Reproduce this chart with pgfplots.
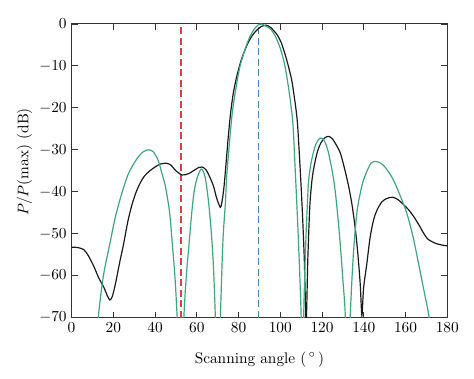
\documentclass[border=0pt]{standalone}
\usepackage{pgfplots}
\pgfplotsset{compat=1.18}
\definecolor{curvegreen}{RGB}{58,168,122}
\definecolor{curveblack}{RGB}{25,25,25}
\definecolor{myblue}{RGB}{70,135,185}
\begin{document}
\begin{tikzpicture}
\useasboundingbox (-51.1pt,-43.8pt) rectangle (287.5pt,226.9pt);
\begin{axis}[
  at={(0,0)}, anchor=south west,
  width=268.4pt, height=209.8pt, scale only axis,
  font=\fontsize{10.95}{13}\selectfont,
  xmin=0, xmax=180, ymin=-70, ymax=0,
  xtick={0,20,...,180}, ytick={-70,-60,...,0},
  axis line style={line width=0.7pt, black!80},
  every tick/.style={line width=0.6pt, black!80},
  major tick length=4.3pt,
  tick align=inside,
  xlabel={Scanning angle ($\,^{\circ}\,$)},
  ylabel={$P/P(\mathrm{max})$ (dB)},
  xlabel style={at={(axis description cs:0.5,0)}, anchor=north, yshift=-21pt},
  ylabel style={at={(axis description cs:-0.125,0.53)}, anchor=center},
  clip=true,
]
% steering markers
\addplot[draw={rgb,255:red,222;green,62;blue,72}, line width=0.9pt, dash pattern=on 5pt off 2.5pt] coordinates {(52.5,-70) (52.5,0)};
\addplot[draw=myblue, line width=0.9pt, dash pattern=on 5pt off 2.5pt] coordinates {(89.5,-70) (89.5,0)};
% black measured pattern
\addplot[color=curveblack, line width=0.85pt, smooth, tension=0.45] coordinates {
(0,-53.2) (3,-53.3) (5.9,-53.8) (8,-55.2) (10.7,-57.8) (13,-60.5) (15.5,-62.8)
(17,-64.6) (18.3,-65.8) (19.5,-65.0) (21.1,-61.8) (23,-57) (25,-52.3) (27,-47.0)
(29,-43.0) (31,-40.0) (33,-37.8) (35,-36.2) (37.5,-35.0) (40,-34.1) (42.5,-33.4)
(45.3,-33.2) (47.5,-33.6) (50,-35) (53,-36) (56,-35.7) (59,-34.8) (61,-34.2)
(62.6,-34.1) (64.5,-34.8) (66.5,-36.8) (68.1,-38.8) (69.5,-41.5) (71.3,-43.7)
(72.2,-42) (73,-39) (73.7,-35.2) (74.9,-28) (76.1,-21.7) (77.5,-16.5) (79.3,-12.2)
(81.5,-8.3) (84.1,-5) (86.5,-2.8) (88.9,-1.4) (91,-0.6) (93.3,-0.3) (95.5,-0.9)
(98.5,-2.6) (100.5,-4.5) (102.4,-7.4) (104,-10.3) (105.6,-13.7) (107.3,-19.5)
(108.3,-24.1) (109.6,-35.2) (110.6,-45) (111.5,-56) (112.4,-71) (113.2,-56)
(114.2,-43) (115.5,-36) (117.6,-30.8) (119.5,-28.3) (121.5,-27.1) (123.2,-26.8)
(125,-27.4) (127,-29) (128.8,-30.8) (130.8,-34.5) (132.8,-38.8) (134.5,-43.5)
(136,-49.1) (137.2,-55) (138.3,-62) (139.1,-69.5) (139.9,-63) (141.5,-57) (143,-51)
(144.7,-46.7) (146.5,-44.2) (148.7,-42.4) (151,-41.6) (153.8,-41.3) (156.5,-41.9)
(159.1,-43.1) (161.5,-44.3) (163.9,-45.9) (166.3,-47.8) (168.7,-49.9) (170.5,-51.2)
(172.7,-51.9) (175,-52.4) (177.5,-52.7) (180,-52.9)
};
% green theoretical pattern
\addplot[color=curvegreen, line width=0.85pt, smooth, tension=0.5] coordinates {
(11.5,-80) (12.8,-70) (15.2,-60.2) (18.4,-52.3) (21,-46) (24.3,-40) (27,-36)
(29,-34) (31.5,-32) (34,-30.6) (36.5,-30.0) (39,-30.4) (41.5,-32.5) (43.5,-36)
(45,-38.8) (47,-45) (48.2,-52) (49.5,-60) (50.6,-70) (52.2,-90) (53.8,-70)
(55,-60) (56.2,-53) (57.4,-46) (58.6,-40.4) (60,-37) (62.1,-34.6) (64,-36.5)
(65.7,-42.7) (67,-50) (68,-58) (68.9,-70) (70.1,-90) (71.3,-70) (72.5,-52)
(73.7,-42.7) (74.5,-35.2) (76.9,-21.7) (79.3,-13.7) (81,-9.5) (83.3,-5.8)
(85.3,-3.2) (87.3,-1.4) (89.5,-0.2) (91,0) (93,-0.5) (95.3,-1.2) (97.5,-2.8)
(100,-5.8) (102,-9.5) (103.5,-13.7) (105,-19) (106.1,-24.1) (107.2,-35.2)
(108.3,-47) (109.2,-58) (110,-70) (110.6,-90) (111.2,-70) (112,-55) (112.8,-45)
(113.6,-37.2) (115,-32.5) (117,-28.7) (119.2,-27.2) (121,-27.8) (123,-30.5)
(125.6,-37.2) (127.2,-44) (128.8,-53) (130,-61) (131.2,-70) (132.4,-90) (133.5,-70)
(135,-55) (136.7,-45) (138.3,-40.4) (140,-37) (143.4,-33.2) (146.2,-32.8)
(149,-33.5) (151.5,-35) (154.2,-37.2) (157.5,-41) (160.6,-45.1) (163.5,-50.5)
(166.2,-57) (169,-64) (171.3,-70) (172.5,-78)
};
\end{axis}
\end{tikzpicture}
\end{document}
